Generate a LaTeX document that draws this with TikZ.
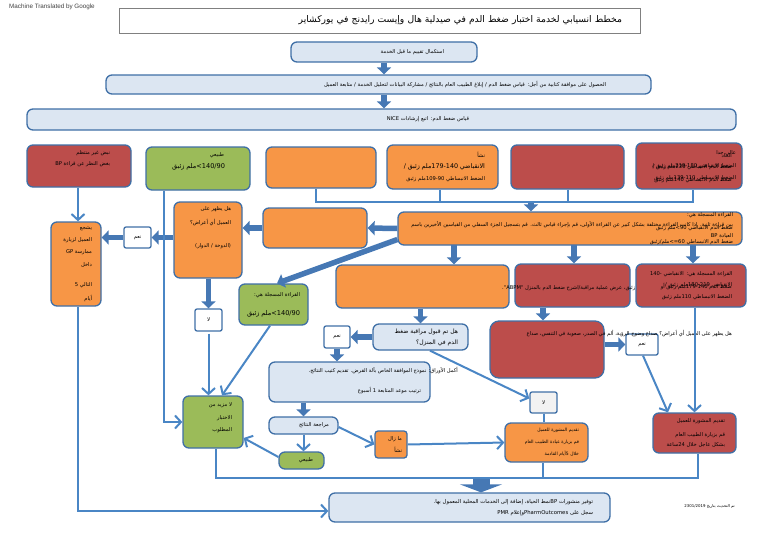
\documentclass[tikz,border=0pt]{standalone}
\usepackage{fontspec}
\usetikzlibrary{arrows.meta}
\setmainfont{Liberation Sans}
\newfontfamily\arabicfont[Script=Arabic]{DejaVu Sans}
\TeXXeTstate=1

\definecolor{boxblue}{HTML}{DCE6F2}
\definecolor{edgeblue}{HTML}{3F6FA6}
\definecolor{pipeblue}{HTML}{4A86C5}
\definecolor{fatblue}{HTML}{4678B4}
\definecolor{boxorange}{HTML}{F79646}
\definecolor{boxred}{HTML}{BC4D4B}
\definecolor{boxgreen}{HTML}{9BBB59}

\newcommand{\artext}[1]{\mbox{\arabicfont\beginR #1\endR}}
\newcommand{\ltr}[1]{\beginL #1\endL}
\newcommand{\sz}[1]{\fontsize{#1}{#1}\selectfont}

\tikzset{
    sized/.style n args={3}{text width=#1pt-2*#3pt, inner xsep=#3pt, minimum height=#2pt, inner ysep=0pt},
    box/.style={draw=edgeblue, line width=1.3pt, rounded corners=6pt, align=right, text=black, font=\sz{5.2}},
    bluebox/.style={box, fill=boxblue},
    orangebox/.style={box, fill=boxorange},
    redbox/.style={box, fill=boxred},
    greenbox/.style={box, fill=boxgreen},
    answer/.style={box, fill=white, rounded corners=2pt, align=center},
    overtext/.style={inner sep=0pt, align=right, font=\sz{5.2}},
    pipe/.style={draw=pipeblue, line width=2pt},
    thinarrow/.style={pipe, -{Straight Barb[length=6pt,width=13pt,line width=2pt]}},
    fat/.style={draw=fatblue, line width=5.5pt, -{Triangle[length=7pt,width=14pt]}},
}

\begin{document}
\begin{tikzpicture}[x=1pt,y=-1pt]
    \useasboundingbox (0,0) rectangle (768,543);

    % Haut de page
    \node[anchor=west, inner sep=0pt, font=\sz{6.3}, text=black!75] (machine) at (9,7) {Machine Translated by Google};
    \node[draw=black!50, line width=0.8pt, align=right, font=\sz{9.2}, sized={521}{25}{18}] (title) at (379.5,20.5)
        {\artext{مخطط انسيابي لخدمة اختبار ضغط الدم في صيدلية هال وإيست رايدنج في يوركشاير}};

    % Etapes du debut
    \node[bluebox, sized={186}{20}{33}] (prestage) at (384,52) {\artext{استكمال تقييم ما قبل الخدمة}};
    \node[bluebox, sized={545}{19}{45}] (consent) at (378.5,84.5)
        {\artext{الحصول على موافقة كتابية من أجل: قياس ضغط الدم / إبلاغ الطبيب العام بالنتائج / مشاركة البيانات لتحليل الخدمة / متابعة العميل}};
    \node[bluebox, sized={709}{21}{267}] (measure) at (381.5,119.5) {\artext{قياس ضغط الدم: اتبع إرشادات \ltr{NICE}}};

    % Premiere rangee
    \node[redbox, sized={104}{42}{21}] (pulse) at (79,166)
        {\artext{نبض غير منتظم}\\[5.4pt]\artext{بغض النظر عن قراءة \ltr{BP}}\\[11pt]~};
    \node[greenbox, sized={104}{43}{26}] (normal) at (198,168.5)
        {\artext{طبيعي}\\[5.4pt]{\sz{6.6}\artext{\ltr{140/90}>ملم زئبق}}\\[11pt]~};
    \node[orangebox, sized={110}{41}{10}] (blankorange) at (321,167.5) {};
    \node[orangebox, sized={111}{44}{13}] (raised) at (442.5,167)
        {\artext{نشأ}\\[5.4pt]{\sz{6.4}\artext{الانقباضي \ltr{179-140}ملم زئبق /}}\\[5.4pt]\artext{الضغط الانبساطي \ltr{109-90}ملم زئبق}};
    \node[redbox, sized={113}{44}{10}] (blankred) at (567.5,167) {};
    \node[redbox, sized={106}{46}{6}] (veryhigh) at (689,166)
        {\artext{عالي جدا}\\[6.4pt]\artext{الضغط الانقباضي \ltr{219-180}ملم زئبق /}\\[6.4pt]\artext{الضغط الانبساطي \ltr{139-110}ملم زئبق}};
    \node[overtext, anchor=north east] (veryhightwo) at (732,153)
        {\artext{الحاد}\\[6.4pt]\artext{ضغط الدم الانقباضي \ltr{220}ملم زئبق /}\\[6.4pt]\artext{ضغط الدم الانبساطي \ltr{140}ملم زئبق}};

    % Lecture principale
    \node[orangebox, sized={344}{33}{9}] (reading) at (570,228.5)
        {\artext{القراءة المسجلة هي:}\\[2.9pt]\artext{بين قراءة ثانية. إذا كانت القراءة مختلفة بشكل كبير عن القراءة الأولى، قم بإجراء قياس ثالث. قم بتسجيل الجزء السفلي من القياسين الأخيرين باسم}\\[4.9pt]\artext{العيادة \ltr{BP}}\\[0pt]\artext{ضغط الدم الانبساطي \ltr{60}=>ملم/زئبق}};
    \node[overtext, anchor=east] (readingsys) at (733,228) {\artext{ضغط الدم الانقباضي \ltr{90}>ملم زئبق}};

    % Colonne de gauche
    \node[orangebox, sized={104}{40}{10}] (blanklow) at (315,228) {};
    \node[orangebox, sized={68}{76}{11}] (symptoms) at (208,240)
        {\artext{هل يظهر على}\\[7.4pt]\artext{العميل أي أعراض؟}\\[16.4pt]\artext{(الدوخة / الدوار)}\\[21pt]~};
    \node[answer, sized={27}{21}{2}] (yesleft) at (137.5,237.5) {\artext{نعم}};
    \node[orangebox, sized={50}{84}{9}] (visitgp) at (76,264)
        {\artext{يشجع}\\[6.4pt]\artext{العميل لزيارة}\\[5.4pt]\artext{ممارسة \ltr{GP}}\\[6.4pt]\artext{داخل}\\[15.4pt]\artext{التالي \ltr{5}}\\[6.4pt]\artext{أيام}};
    \node[answer, sized={27}{22}{2}] (noleft) at (208.5,320) {\artext{لا}};
    \node[greenbox, sized={69}{41}{8}] (lowreading) at (273.5,304.5)
        {\artext{القراءة المسجلة هي:}\\[12pt]{\sz{6.6}\artext{\ltr{140/90}>ملم زئبق}}};
    \node[greenbox, sized={60}{52}{11}] (notest) at (213,422)
        {\artext{لا مزيد من}\\[6.4pt]\artext{الاختبار}\\[5.4pt]\artext{المطلوب}\\[5pt]~};

    % Deuxieme rangee
    \node[orangebox, sized={173}{43}{10}] (blankmid) at (422.5,286.5) {};
    \node[redbox, sized={115}{43}{10}] (redmid) at (572.5,285.5) {};
    \node[overtext, anchor=west] (abpmtext) at (502,288)
        {\artext{\ltr{109-90}ملم زئبق، عرض عملية مراقبة/اشرح ضغط الدم بالمنزل "\ltr{ABPM}".}};
    \node[redbox, sized={110}{43}{14}] (redright) at (691,285.5)
        {\artext{القراءة المسجلة هي: الانقباضي \ltr{-140}}\\[5.4pt]\artext{الانقباضي \ltr{180-219}ملم زئبق /}\\[5.4pt]\artext{الضغط الانبساطي \ltr{110}ملم زئبق}};
    \node[overtext, anchor=east] (redrighttwo) at (732,286.5) {\artext{ضغط الدم \ltr{179-140}ملم زئبق أو}};

    % Surveillance a domicile
    \node[bluebox, font=\sz{6}, sized={95}{26}{10}] (homebp) at (420.5,337)
        {\artext{هل تم قبول مراقبة ضغط}\\[4pt]\artext{الدم في المنزل؟}};
    \node[answer, sized={26}{22}{2}] (yeshome) at (337,337) {\artext{نعم}};
    \node[bluebox, sized={161}{40}{9}] (paperwork) at (349.5,382) {\mbox{}\\[17pt]\artext{ترتيب موعد المتابعة \ltr{1} أسبوع}};
    \node[overtext, anchor=east] (paperworktext) at (458,371)
        {\artext{أكمل الأوراق: نموذج الموافقة الخاص بآلة القرض. تقديم كتيب النتائج.}};
    \node[bluebox, sized={69}{17}{9}] (review) at (303.5,425.5) {\artext{مراجعة النتائج}};
    \node[greenbox, sized={45}{17}{11}] (normaltwo) at (301.5,460.5) {\artext{طبيعي}};
    \node[orangebox, rounded corners=3pt, sized={32}{27}{5}] (stillraised) at (391,444.5)
        {\artext{ما زال}\\[4.4pt]\artext{نشأ}};

    % Cas rouges
    \node[redbox, rounded corners=9pt, sized={114}{57}{10}] (redlarge) at (547,349.5) {};
    \node[answer, sized={32}{21}{2}] (yesred) at (642,344.5) {\artext{نعم}};
    \node[overtext, anchor=east] (redsymptoms) at (732,334)
        {\artext{هل يظهر على العميل أي أعراض؟ صداع وضوح الرؤية، ألم في الصدر، صعوبة في التنفس، صداع}};
    \node[answer, fill=black!5, sized={27}{21}{2}] (nomid) at (543.5,402.5) {\artext{لا}};
    \node[orangebox, font=\sz{4.5}, sized={83}{39}{9}] (advicegp) at (546.5,442.5)
        {\artext{تقديم المشورة للعميل}\\[6pt]\artext{قم بزيارة عيادة الطبيب العام}\\[6pt]\artext{خلال \ltr{5}أيام القادمة}};
    \node[redbox, sized={83}{40}{11}] (adviceurgent) at (694.5,433)
        {\artext{تقديم المشورة للعميل}\\[7.4pt]\artext{قم بزيارة الطبيب العام}\\[3.4pt]\artext{بشكل عاجل خلال \ltr{24}ساعة}};

    % Bas de page
    \node[bluebox, font=\sz{5.3}, sized={281}{29}{17}] (leaflets) at (469.5,507.5)
        {\artext{توفير منشورات \ltr{BP}نمط الحياة، إضافة إلى الخدمات المحلية المعمول بها.}\\[4.7pt]\artext{سجل على \ltr{PharmOutcomes}وإعلام \ltr{PMR}}};
    \node[anchor=east, inner sep=0pt, font=\sz{3.9}] (updated) at (735,506) {\artext{تم التحديث بتاريخ \ltr{2301/2019}}};

    % Points des collecteurs
    \coordinate (busA) at (316,202);
    \coordinate (busB) at (440,202);
    \coordinate (busC) at (568,202);
    \coordinate (busD) at (693,202);
    \coordinate (busM) at (531,202);
    \coordinate (dropA) at (454,245);
    \coordinate (dropB) at (574,245);
    \coordinate (dropC) at (693,245);
    \coordinate (busE) at (698,478);
    \coordinate (busG) at (543,478);
    \coordinate (busH) at (481,478);

    % Fleches epaisses
    \draw[fat] (prestage.south) -- (prestage.south |- consent.north);
    \draw[fat] (prestage.south |- consent.south) -- (prestage.south |- measure.north);
    \draw[fat] (busM) -- (busM |- reading.north);
    \draw[fat] (reading.west) -- (blanklow.east);
    \draw[fat] ([yshift=-11pt]reading.west) -- ([xshift=3.5pt]lowreading.north);
    \draw[fat] (blanklow.west) -- (blanklow.west -| symptoms.east);
    \draw[fat] (yesleft.east -| symptoms.west) -- (yesleft.east);
    \draw[fat] (yesleft.west) -- (yesleft.west -| visitgp.east);
    \draw[fat] (noleft.north |- symptoms.south) -- (noleft.north);
    \draw[fat] (dropA) -- (dropA |- blankmid.north);
    \draw[fat] (dropB) -- (dropB |- redmid.north);
    \draw[fat] (dropC) -- (dropC |- redright.north);
    \draw[fat] (homebp.north |- blankmid.south) -- (homebp.north);
    \draw[fat] (homebp.west) -- (yeshome.east);
    \draw[fat] (yeshome.south) -- (yeshome.south |- paperwork.north);
    \draw[fat] (review.north |- paperwork.south) -- (review.north);
    \draw[fat] ([xshift=-29.5pt]redmid.south) -- ([xshift=-4pt]redlarge.north);
    \draw[fat] (yesred.west -| redlarge.east) -- (yesred.west);
    \draw[draw=fatblue, line width=17pt, -{Triangle[length=8pt,width=42pt]}] (busH) -- (busH |- leaflets.north);

    % Collecteurs
    \draw[pipe] (busA |- blankorange.south) -- (busA) -- (busD) -- (busD |- veryhigh.south);
    \draw[pipe] (busB |- raised.south) -- (busB);
    \draw[pipe] (busC |- blankred.south) -- (busC);
    \draw[pipe] ([xshift=3pt]notest.south) |- (busE) -- (busE |- adviceurgent.south);
    \draw[pipe] (busG |- advicegp.south) -- (busG);
    \draw[pipe] (nomid.south) -- (nomid.south |- advicegp.north);

    % Fleches fines
    \draw[thinarrow] ([xshift=-1pt]pulse.south) -- ([xshift=2pt]visitgp.north);
    \draw[thinarrow] ([xshift=2pt]visitgp.south) |- ([yshift=-3.5pt]leaflets.west);
    \draw[thinarrow] ([xshift=-34pt]normal.south) |- (notest.west);
    \draw[thinarrow] ([yshift=-2pt]noleft.south) -- (noleft.south |- notest.north);
    \draw[thinarrow] ([xshift=-3.5pt]lowreading.south) -- ([xshift=9pt]notest.north);
    \draw[thinarrow] (review.south) -- (review.south |- normaltwo.north);
    \draw[thinarrow] ([yshift=3.5pt]normaltwo.west) -- ([yshift=-16pt]notest.east);
    \draw[thinarrow] ([yshift=-1.5pt]review.east) -- (stillraised.west);
    \draw[thinarrow] (stillraised.east) -- (advicegp.west);
    \draw[thinarrow] ([xshift=9.5pt]homebp.south) -- ([yshift=4pt]nomid.west);
    \draw[thinarrow] ([xshift=1pt]yesred.south) -- ([xshift=-26.5pt]adviceurgent.north);
    \draw[thinarrow] (adviceurgent.north |- redright.south) -- (adviceurgent.north);
\end{tikzpicture}
\end{document}
